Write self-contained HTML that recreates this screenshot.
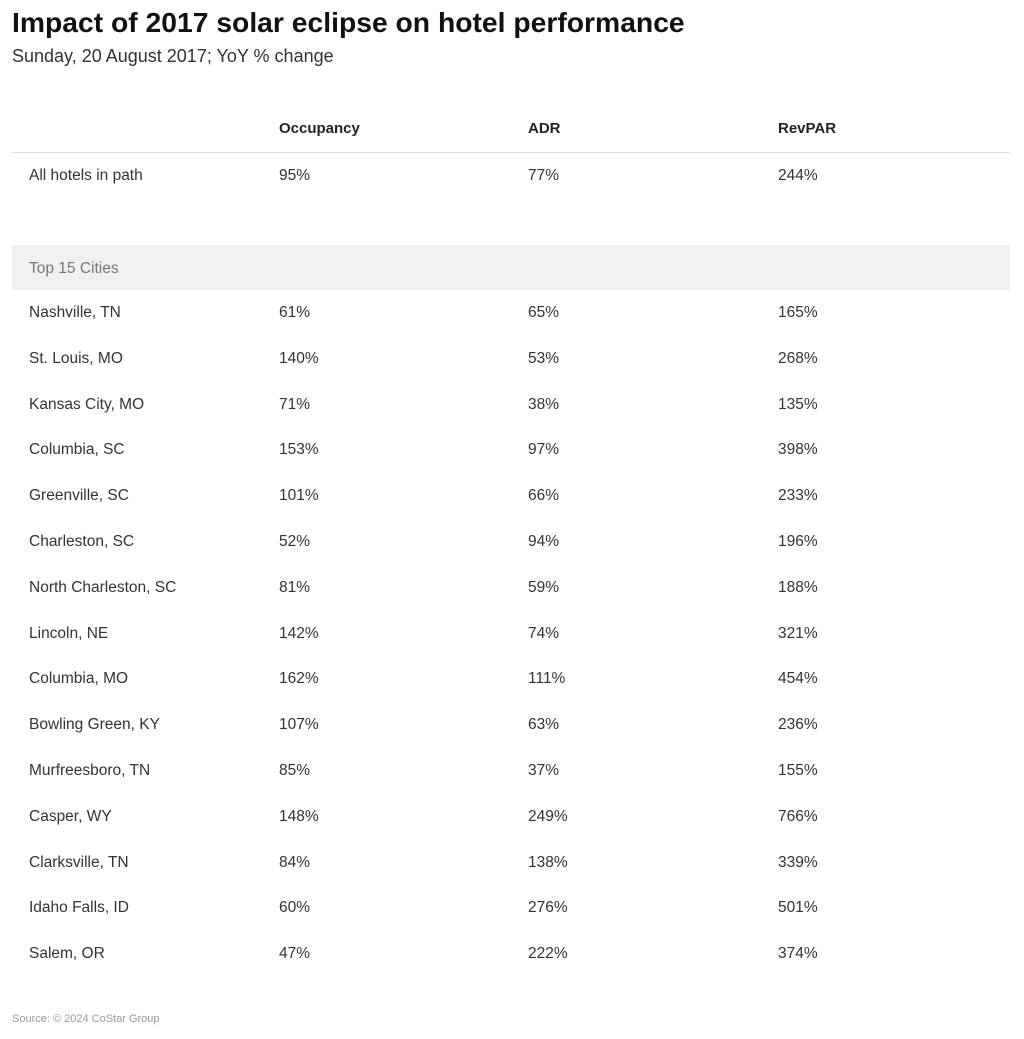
<!DOCTYPE html>
<html><head><meta charset="utf-8"><style>
body{margin:0;width:1024px;height:1039px;background:#fff;font-family:"Liberation Sans",sans-serif;color:#222;position:relative;overflow:hidden}
.t{position:absolute;white-space:nowrap;line-height:1;transform-origin:left center}
.title{left:12px;top:9px;font-size:28px;font-weight:bold;color:#111;transform:scaleX(1.01)}
.sub{left:12px;top:47px;font-size:18px;color:#333;transform:scaleX(1.0)}
.h{font-weight:bold;font-size:15px;color:#222}
.c{font-size:15.5px;color:#333}
.src{left:12px;top:1014px;font-size:11px;color:#999}
</style></head><body>
<div class="t title">Impact of 2017 solar eclipse on hotel performance</div>
<div class="t sub">Sunday, 20 August 2017; YoY % change</div>
<div class="t h" style="left:279px;top:121px">Occupancy</div>
<div class="t h" style="left:528px;top:121px">ADR</div>
<div class="t h" style="left:778px;top:121px">RevPAR</div>
<div style="position:absolute;left:12px;top:152px;width:998px;height:1px;background:#ddd"></div>
<div class="t c" style="left:29px;top:168px">All hotels in path</div>
<div class="t c" style="left:279px;top:168px">95%</div>
<div class="t c" style="left:528px;top:168px">77%</div>
<div class="t c" style="left:778px;top:168px">244%</div>
<div style="position:absolute;left:12px;top:245px;width:998px;height:45px;background:#f0f0f0"></div>
<div class="t c" style="left:29px;top:261px;color:#777">Top 15 Cities</div>
<div id="rows"></div>
<div class="t src">Source: © 2024 CoStar Group</div>
<script>
var d=[["Nashville, TN","61%","65%","165%"],["St. Louis, MO","140%","53%","268%"],["Kansas City, MO","71%","38%","135%"],["Columbia, SC","153%","97%","398%"],["Greenville, SC","101%","66%","233%"],["Charleston, SC","52%","94%","196%"],["North Charleston, SC","81%","59%","188%"],["Lincoln, NE","142%","74%","321%"],["Columbia, MO","162%","111%","454%"],["Bowling Green, KY","107%","63%","236%"],["Murfreesboro, TN","85%","37%","155%"],["Casper, WY","148%","249%","766%"],["Clarksville, TN","84%","138%","339%"],["Idaho Falls, ID","60%","276%","501%"],["Salem, OR","47%","222%","374%"]];
var xs=[29,279,528,778],h="";
d.forEach(function(r,i){var y=305+i*45.8;r.forEach(function(v,j){h+='<div class="t c" style="left:'+xs[j]+'px;top:'+y+'px">'+v+'</div>';});});
document.getElementById("rows").innerHTML=h;
</script>
</body></html>
